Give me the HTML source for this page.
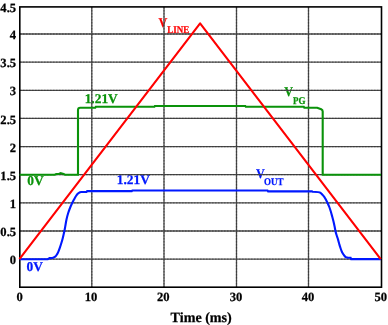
<!DOCTYPE html>
<html><head><meta charset="utf-8">
<style>
html,body{margin:0;padding:0;background:#fff;width:388px;height:325px;overflow:hidden}
svg{display:block}
text{font-family:"Liberation Serif","Times New Roman",serif;font-weight:bold;text-rendering:geometricPrecision;stroke-width:0.25px}
</style></head>
<body>
<svg width="388" height="325" viewBox="0 0 388 325">
<rect width="388" height="325" fill="#fff"/>
<g text-anchor="middle">
<g fill="#ff0000" stroke="#ff0000"><text transform="translate(162.8,26.8) scale(0.9,1)" font-size="13.5">V</text><text transform="translate(178.25,33.4) scale(0.865,1)" font-size="10.4">LINE</text></g>
<g fill="#0a920a" stroke="#0a920a"><text x="101.2" y="103.09" font-size="13.4">1.21V</text><text transform="translate(288.75,96.2) scale(0.9,1)" font-size="13.5">V</text><text transform="translate(299.3,103.55) scale(0.865,1)" font-size="10.4">PG</text><text x="35.5" y="185.34" font-size="13.4">0V</text></g>
<g fill="#0018ff" stroke="#0018ff"><text x="133.3" y="184.24" font-size="13.4">1.21V</text><text transform="translate(260.45,177.9) scale(0.9,1)" font-size="13.5">V</text><text transform="translate(273.8,184.5) scale(0.865,1)" font-size="10.4">OUT</text><text x="34.8" y="270.99" font-size="13.4">0V</text></g>
</g>
<g fill="none" stroke-width="1.3">
<path stroke="#4a4a4a" d="M20,34.0H381M20,62.2H381M20,90.3H381M20,118.4H381M20,146.6H381M20,174.7H381M20,202.8H381M20,231.0H381M20,259.1H381M91.8,7V287M164,7V287M236.5,7V287M308.5,7V287"/>
<path stroke="#2e2e2e" stroke-opacity="0.5" stroke-dasharray="1.5,1.5" d="M20,34.0H381M20,62.2H381M20,90.3H381M20,118.4H381M20,146.6H381M20,174.7H381M20,202.8H381M20,231.0H381M20,259.1H381M91.8,7V287M164,7V287M236.5,7V287M308.5,7V287"/>
</g>
<rect x="19.8" y="6.9" width="361.7" height="280.3" fill="none" stroke="#000" stroke-width="1.6"/>
<path d="M19.6,174.7L54.8,174.7L56.2,174L59,174L60.6,173.1L63.6,174L65,174.7L78,174.7L78,110Q78,107.7 80.3,107.7L95.3,107.7L95.8,106.8L154.4,106.8L154.9,106L245.3,106L245.8,106.8L303.8,106.8L304.3,107.7L317.2,107.7L321.2,109.3Q322.7,110 322.7,111.5L322.7,174.7L381,174.7" fill="none" stroke="#0a920a" stroke-width="2.1"/>
<path d="M19.6,259.2L47.8,259.2L49.6,258.1L52.4,258C52.87,257.78 54.43,257.30 55.20,256.70C55.97,256.10 56.47,255.25 57.00,254.40C57.53,253.55 57.93,252.68 58.40,251.60C58.87,250.52 59.32,249.28 59.80,247.90C60.28,246.52 60.83,244.83 61.30,243.30C61.77,241.77 62.20,240.25 62.60,238.70C63.00,237.15 63.37,235.45 63.70,234.00C64.03,232.55 64.30,231.50 64.60,230.00C64.90,228.50 65.17,226.83 65.50,225.00C65.83,223.17 66.15,221.00 66.60,219.00C67.05,217.00 67.60,214.92 68.20,213.00C68.80,211.08 69.53,209.17 70.20,207.50C70.87,205.83 71.57,204.33 72.20,203.00C72.83,201.67 73.37,200.67 74.00,199.50C74.63,198.33 75.33,197.00 76.00,196.00C76.67,195.00 77.33,194.13 78.00,193.50C78.67,192.87 79.42,192.45 80.00,192.20C80.58,191.95 81.25,192.03 81.50,192.00L86.5,192L87.2,191.1L131.8,191.1L132.4,190.5L267.5,190.5L268.1,191.4L312,191.4L312.6,191.8C318.83,191.97 319.83,192.30 320.50,192.80C321.17,193.30 321.82,194.05 322.50,194.80C323.18,195.55 323.98,196.38 324.60,197.30C325.22,198.22 325.68,199.32 326.20,200.30C326.72,201.28 327.18,202.08 327.70,203.20C328.22,204.32 328.78,205.62 329.30,207.00C329.82,208.38 330.32,209.92 330.80,211.50C331.28,213.08 331.75,214.83 332.20,216.50C332.65,218.17 333.10,219.83 333.50,221.50C333.90,223.17 334.27,224.88 334.60,226.50C334.93,228.12 335.15,229.70 335.50,231.20C335.85,232.70 336.28,234.13 336.70,235.50C337.12,236.87 337.60,238.07 338.00,239.40C338.40,240.73 338.73,242.20 339.10,243.50C339.47,244.80 339.70,245.73 340.20,247.20C340.70,248.67 341.37,250.83 342.10,252.30C342.83,253.77 343.90,255.15 344.60,256.00C345.30,256.85 345.77,257.12 346.30,257.40C346.83,257.68 347.55,257.65 347.80,257.70L350.6,257.7L351.2,259.1L381,259.1" fill="none" stroke="#0018ff" stroke-width="2.1"/>
<path d="M19.4,259.1L200.1,23.3L380.7,259.1" fill="none" stroke="#ff0000" stroke-width="2.1" stroke-linejoin="round"/>
<g font-size="12.6" text-anchor="end" fill="#000" stroke="#000">
<text x="16.1" y="11.5">4.5</text>
<text x="16.1" y="38.75">4</text>
<text x="16.1" y="66.95">3.5</text>
<text x="16.1" y="95.05">3</text>
<text x="16.1" y="123.5">2.5</text>
<text x="16.1" y="151.7">2</text>
<text x="16.1" y="179.9">1.5</text>
<text x="16.1" y="207.55">1</text>
<text x="16.1" y="235.75">0.5</text>
<text x="16.1" y="263.85">0</text>
</g>
<g font-size="12.6" text-anchor="middle" fill="#000" stroke="#000">
<text x="19.7" y="301.3">0</text>
<text x="91.1" y="301.3">10</text>
<text x="163.2" y="301.3">20</text>
<text x="236.1" y="301.3">30</text>
<text x="308.0" y="301.3">40</text>
<text x="380.7" y="301.3">50</text>
</g>
<text x="201.2" y="321.8" font-size="14.1" text-anchor="middle" fill="#000" stroke="#000">Time (ms)</text>
</svg>
</body></html>
